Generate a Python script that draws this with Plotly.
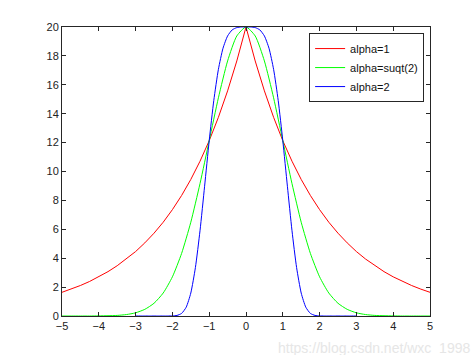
import numpy as np
import plotly.graph_objects as go

# x grids
X_WIDE = np.linspace(-5, 5, 41)      # step 0.25
X_NARROW = np.linspace(-3, 3, 49)    # step 0.125

red_half = [20, 17.65, 15.58, 13.75, 12.13, 10.71, 9.45, 8.34, 7.36, 6.49, 5.73,
            5.06, 4.46, 3.94, 3.48, 3.07, 2.71, 2.39, 2.11, 1.86, 1.64]
green_half = [20, 19.38, 17.65, 15.10, 12.13, 9.16, 6.49, 4.33, 2.71, 1.59, 0.88,
              0.46, 0.22, 0.10, 0.04, 0.02, 0.01, 0, 0, 0, 0]
blue_half = [20, 20.00, 19.96, 19.80, 19.38, 18.53, 17.07, 14.92, 12.13, 8.98, 5.90,
             3.35, 1.59, 0.61, 0.18, 0.04, 0.01, 0, 0, 0, 0, 0, 0, 0, 0]

y_red = red_half[:0:-1] + red_half
y_green = green_half[:0:-1] + green_half
y_blue = blue_half[:0:-1] + blue_half

names = ["alpha=1", "alpha=suqt(2)", "alpha=2"]
colors = ["#ff0000", "#00ff00", "#0000ff"]

X_TICKS = [-5, -4, -3, -2, -1, 0, 1, 2, 3, 4, 5]
Y_TICKS = [0, 2, 4, 6, 8, 10, 12, 14, 16, 18, 20]

fig = go.Figure()
fig.add_trace(go.Scatter(x=X_WIDE, y=y_red, mode="lines", name=names[0],
                         line=dict(color=colors[0], width=1)))
fig.add_trace(go.Scatter(x=X_WIDE, y=y_green, mode="lines", name=names[1],
                         line=dict(color=colors[1], width=1, shape="spline", smoothing=0.6)))
fig.add_trace(go.Scatter(x=X_NARROW, y=y_blue, mode="lines", name=names[2],
                         line=dict(color=colors[2], width=1, shape="spline", smoothing=0.6)))

axis_common = dict(showgrid=False, zeroline=False, showline=True, linecolor="#262626",
                   linewidth=1, mirror="ticks", ticks="inside", ticklen=4,
                   tickcolor="#262626", tickfont=dict(family="Liberation Sans, Arial", size=11,
                                                     color="#222222"))
fig.update_xaxes(range=[-5, 5], tickvals=X_TICKS, **axis_common)
fig.update_yaxes(range=[0, 20], tickvals=Y_TICKS, **axis_common)

fig.update_layout(
    width=474, height=355,
    margin=dict(l=62, r=44, t=27, b=39),
    plot_bgcolor="white", paper_bgcolor="white",
    showlegend=True,
    legend=dict(x=0.984, y=0.979, xanchor="right", yanchor="top",
                bgcolor="white", bordercolor="#262626", borderwidth=1,
                font=dict(family="Liberation Sans, Arial", size=11, color="#111111"),
                tracegroupgap=0, itemwidth=30),
)
fig.add_annotation(text="https://blog.csdn.net/wxc_1998", xref="paper", yref="paper",
                   x=1.114, y=-0.112, xanchor="right", yanchor="middle", showarrow=False,
                   font=dict(family="Liberation Sans, Arial", size=14, color="#e6e6e6"))

fig.write_html("out.html")
